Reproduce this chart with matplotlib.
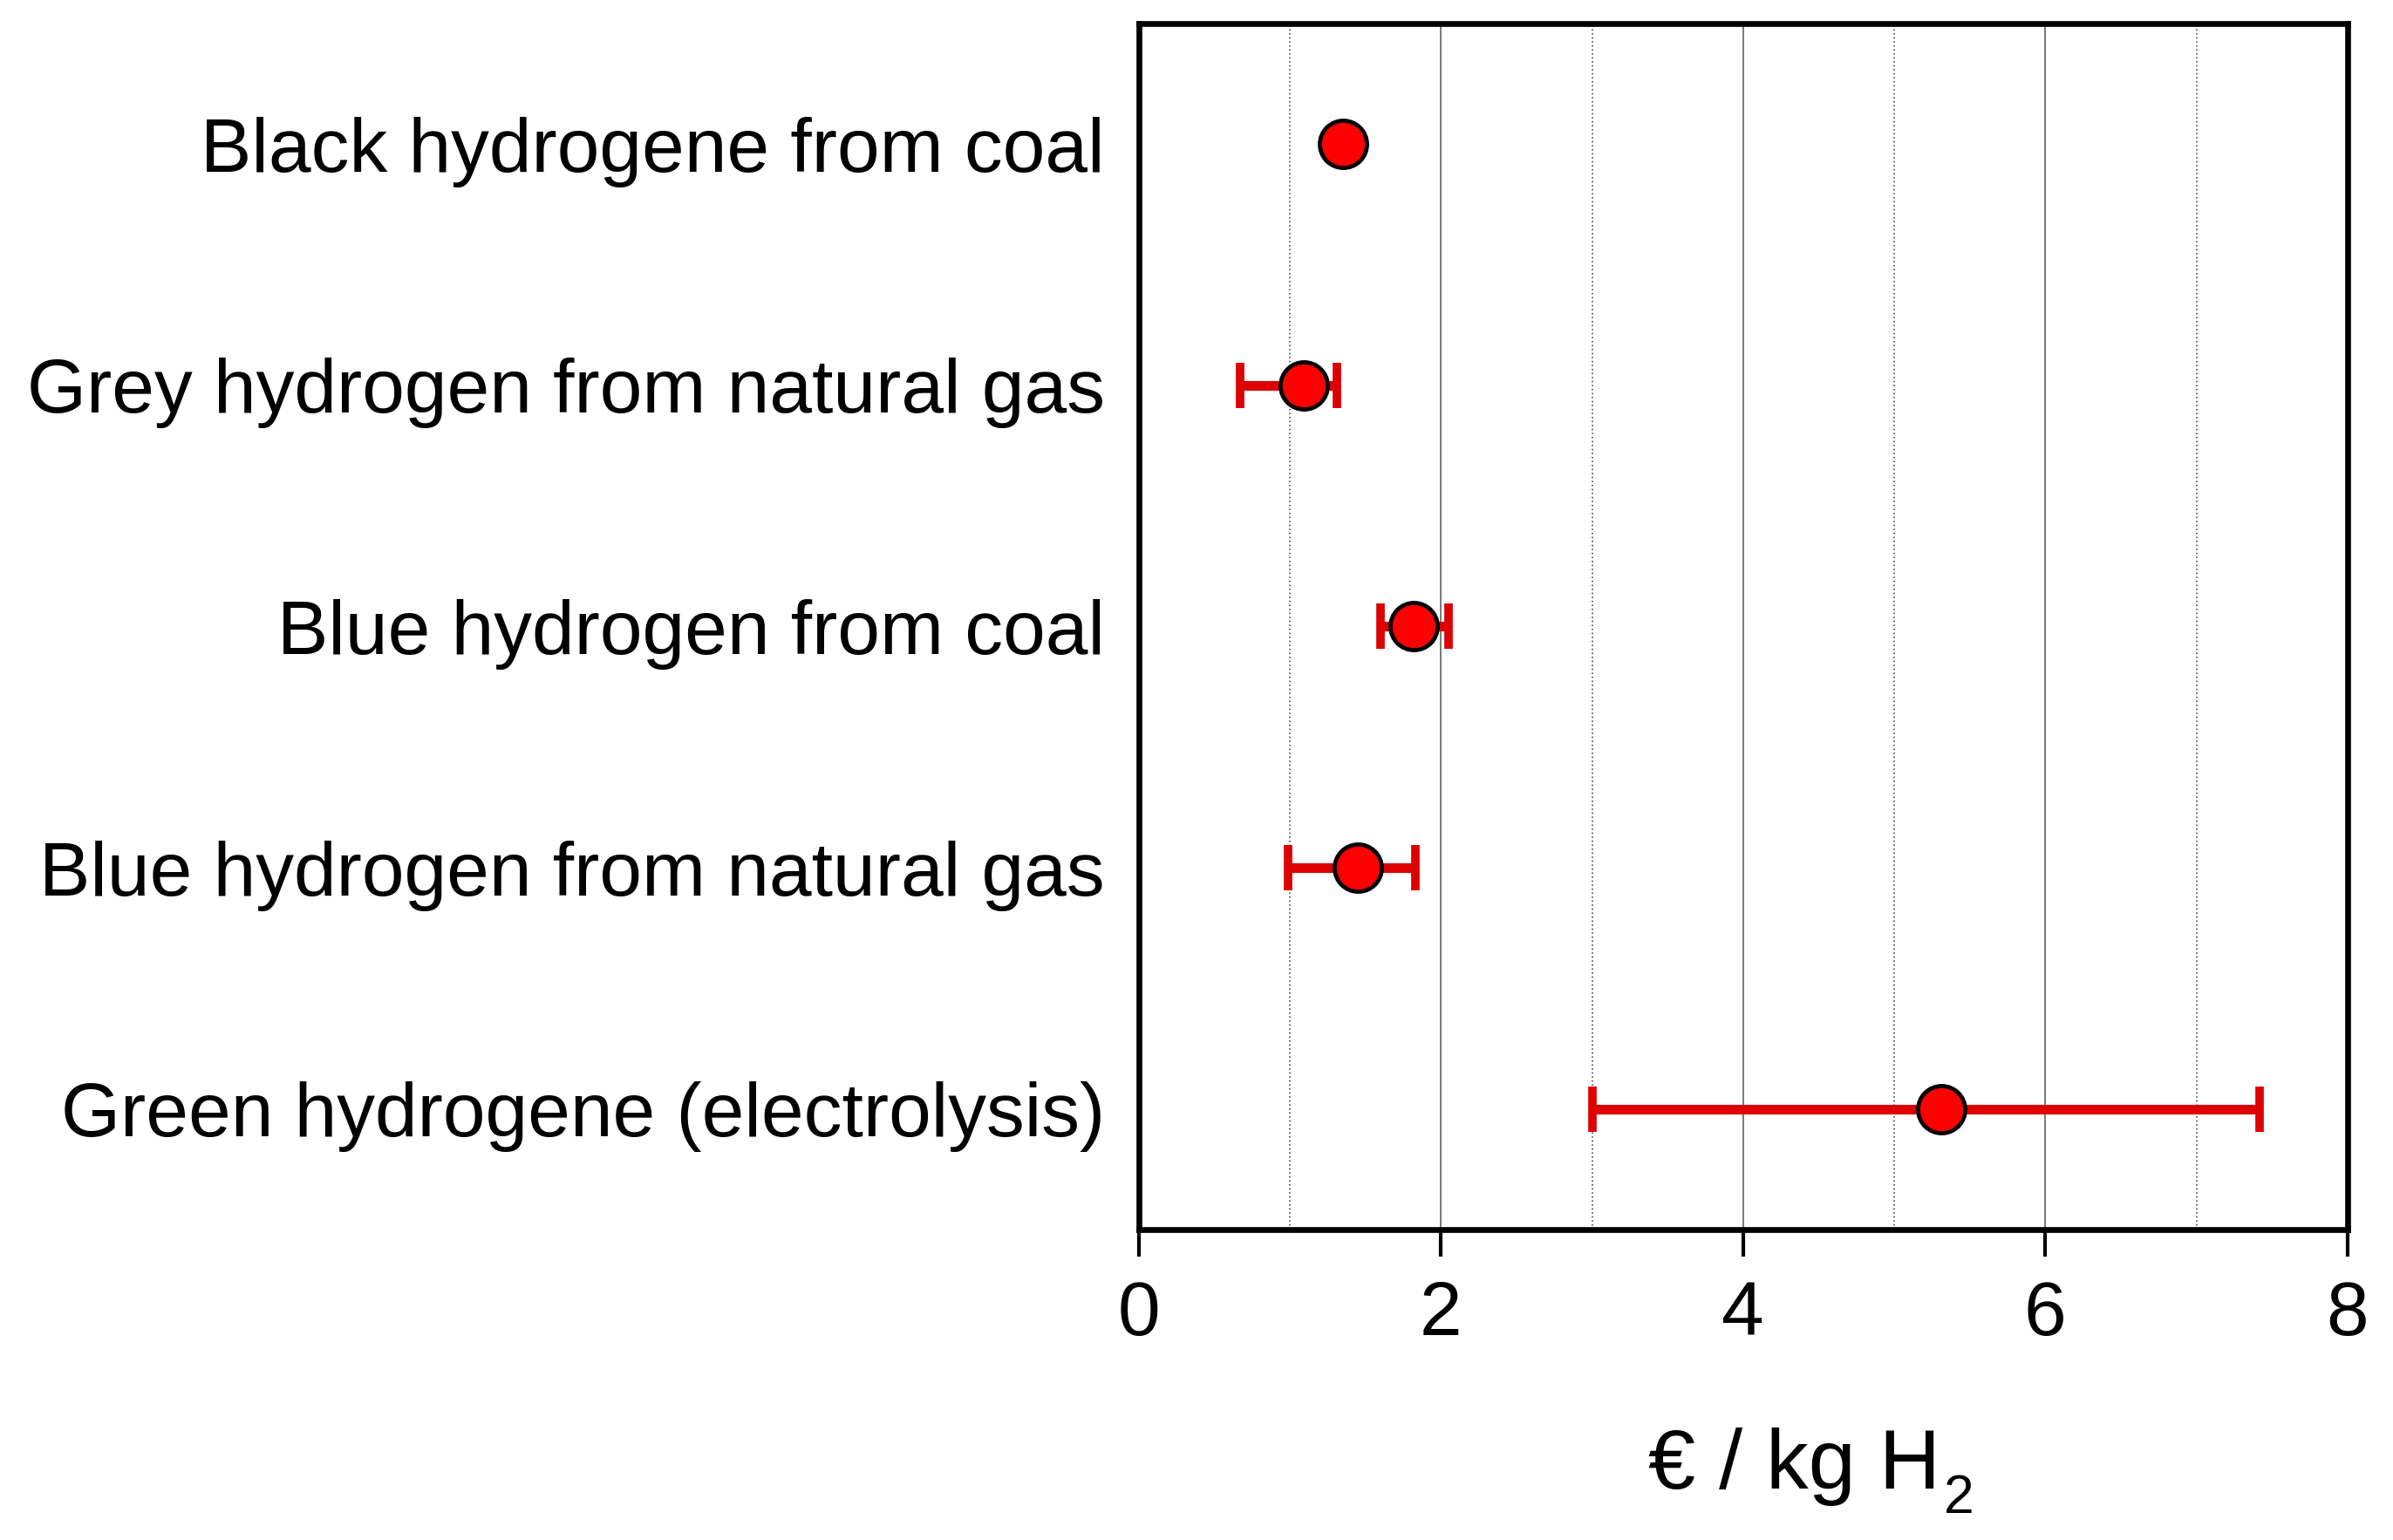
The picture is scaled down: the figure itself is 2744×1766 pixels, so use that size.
import matplotlib
matplotlib.use("Agg")
import matplotlib.pyplot as plt
from matplotlib.ticker import MultipleLocator
import numpy as np

plt.rcParams['font.family'] = ['Liberation Sans', 'DejaVu Sans']

categories = ["Black hydrogene from coal",
              "Grey hydrogen from natural gas",
              "Blue hydrogen from coal",
              "Blue hydrogen from natural gas",
              "Green hydrogene (electrolysis)"]
cost = [1.35, 1.09, 1.82, 1.45, 5.31]
cost_low = [np.nan, 0.67, 1.60, 0.99, 3.00]
cost_high = [np.nan, 1.31, 2.05, 1.83, 7.42]
x_ticks = [0, 2, 4, 6, 8]

fig = plt.figure(figsize=(27.44, 17.66), dpi=100)
ax = fig.add_axes([0.4759, 0.2016, 0.9810 - 0.4759, 0.9847 - 0.2016])

ypos = np.arange(len(categories))

# error bars only where a range exists
for i in range(len(categories)):
    if np.isnan(cost_low[i]):
        continue
    ax.errorbar(cost[i], ypos[i],
                xerr=[[cost[i] - cost_low[i]], [cost_high[i] - cost[i]]],
                fmt='none', ecolor='#dd0000', elinewidth=8,
                capsize=19, capthick=7, zorder=3)

ax.plot(cost, ypos, 'o', color='#ff0000', markeredgecolor='black',
        markersize=39, markeredgewidth=3.4, zorder=4, linestyle='none')

ax.set_xlim(0, 8)
ax.set_ylim(4.5, -0.5)
ax.set_xticks(x_ticks)
ax.set_xticklabels([str(t) for t in x_ticks])
ax.xaxis.set_minor_locator(MultipleLocator(1))
ax.set_yticks(ypos)
ax.set_yticklabels(categories)

ax.grid(which='major', axis='x', color='#555555', linewidth=1.1, linestyle='-', zorder=0)
ax.grid(which='minor', axis='x', color='#333333', linewidth=1.1, linestyle=(0, (1, 2)), zorder=0)
ax.set_axisbelow(True)

for s in ax.spines.values():
    s.set_linewidth(4.8)
    s.set_color('black')

ax.tick_params(axis='x', which='major', direction='out', length=22, width=3,
               labelsize=63, pad=20)
ax.tick_params(axis='x', which='minor', length=0)
ax.tick_params(axis='y', which='both', length=0, labelsize=63, pad=28)

# axis title with a larger, lower subscript like the original
fig.text(0.8109, 0.0334, '€ / kg H', fontsize=70, ha='right', va='baseline')
fig.text(0.8124, 0.0176, '2', fontsize=45, ha='left', va='baseline')

fig.savefig('out.png', dpi=100, facecolor='white')
